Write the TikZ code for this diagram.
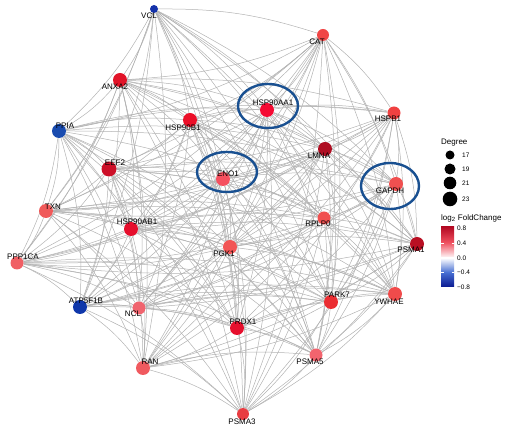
\documentclass[tikz,border=0pt]{standalone}
\usepackage{fontspec}
\setmainfont{Liberation Sans}
\usetikzlibrary{backgrounds,shapes.geometric}
\definecolor{edgegray}{RGB}{178,178,178}
\definecolor{ringblue}{RGB}{25,80,145}
\definecolor{cbred}{RGB}{180,10,35}
\definecolor{cbblue}{RGB}{10,25,145}
\tikzset{
  gn/.style 2 args={circle, inner sep=0pt, minimum size=#2, fill=#1, draw=none},
  lab/.style={font=\fontsize{8}{9}\selectfont, inner sep=0pt, text=black},
  edge/.style={draw=edgegray, line width=0.5pt},
  ring/.style={draw=ringblue, line width=2.4pt},
  legtxt/.style={font=\fontsize{6.5}{8}\selectfont, inner sep=0pt, anchor=west},
}
\begin{document}
\begin{tikzpicture}[x=1pt,y=-1pt]
\useasboundingbox (0,0) rectangle (507,430);
% nodes
\node[gn={{rgb,255:red,20;green,50;blue,170}}{8pt}]   (VCL)      at (154,9) {};
\node[gn={{rgb,255:red,240;green,70;blue,70}}{12pt}]  (CAT)      at (323,35) {};
\node[gn={{rgb,255:red,225;green,20;blue,40}}{14pt}]  (ANXA2)    at (120,80) {};
\node[gn={{rgb,255:red,25;green,75;blue,175}}{14pt}]  (PPIA)     at (59,131) {};
\node[gn={{rgb,255:red,235;green,15;blue,40}}{14pt}]  (HSP90B1)  at (190,120) {};
\node[gn={{rgb,255:red,245;green,10;blue,50}}{14pt}]  (HSP90AA1) at (267,110) {};
\node[gn={{rgb,255:red,240;green,65;blue,65}}{13pt}]  (HSPB1)    at (394,113) {};
\node[gn={{rgb,255:red,175;green,15;blue,35}}{14pt}]  (LMNA)     at (325,149) {};
\node[gn={{rgb,255:red,205;green,15;blue,40}}{15pt}]  (EEF2)     at (109,169) {};
\node[gn={{rgb,255:red,245;green,80;blue,95}}{14pt}]  (ENO1)     at (223,179) {};
\node[gn={{rgb,255:red,240;green,80;blue,80}}{14pt}]  (GAPDH)    at (396,184) {};
\node[gn={{rgb,255:red,240;green,90;blue,90}}{14pt}]  (TXN)      at (46,211) {};
\node[gn={{rgb,255:red,230;green,15;blue,45}}{14pt}]  (HSP90AB1) at (131,229) {};
\node[gn={{rgb,255:red,240;green,80;blue,80}}{13pt}]  (RPLP0)    at (324,218) {};
\node[gn={{rgb,255:red,242;green,85;blue,85}}{14pt}]  (PGK1)     at (230,247) {};
\node[gn={{rgb,255:red,185;green,15;blue,35}}{14pt}]  (PSMA1)    at (417,244) {};
\node[gn={{rgb,255:red,240;green,95;blue,100}}{13pt}] (PPP1CA)   at (17,263) {};
\node[gn={{rgb,255:red,15;green,55;blue,170}}{14pt}]  (ATP5F1B)  at (80,307) {};
\node[gn={{rgb,255:red,240;green,100;blue,110}}{13pt}](NCL)      at (139,308) {};
\node[gn={{rgb,255:red,230;green,15;blue,45}}{14pt}]  (PRDX1)    at (237,328) {};
\node[gn={{rgb,255:red,235;green,45;blue,50}}{14pt}]  (PARK7)    at (331,302) {};
\node[gn={{rgb,255:red,240;green,75;blue,75}}{14pt}]  (YWHAE)    at (395,294) {};
\node[gn={{rgb,255:red,240;green,90;blue,95}}{14pt}]  (RAN)      at (143,368) {};
\node[gn={{rgb,255:red,242;green,100;blue,110}}{13pt}](PSMA5)    at (316,355) {};
\node[gn={{rgb,255:red,232;green,60;blue,65}}{12pt}]  (PSMA3)    at (243,414) {};
% edges
\begin{pgfonlayer}{background}
\foreach \a [count=\i] in {VCL,CAT,ANXA2,PPIA,HSP90B1,HSP90AA1,HSPB1,LMNA,EEF2,ENO1,GAPDH,TXN,HSP90AB1,RPLP0,PGK1,PSMA1,PPP1CA,ATP5F1B,NCL,PRDX1,PARK7,YWHAE,RAN,PSMA5,PSMA3}{
  \foreach \b [count=\j] in {VCL,CAT,ANXA2,PPIA,HSP90B1,HSP90AA1,HSPB1,LMNA,EEF2,ENO1,GAPDH,TXN,HSP90AB1,RPLP0,PGK1,PSMA1,PPP1CA,ATP5F1B,NCL,PRDX1,PARK7,YWHAE,RAN,PSMA5,PSMA3}{
    \pgfmathtruncatemacro\r{mod(\i*7+\j*11,6)}
    \ifnum\j>\i
      \ifnum\r>0
        \draw[edge] (\a) to[bend left=9] (\b);
      \fi
    \fi
  }
}
\end{pgfonlayer}
% labels
\node[lab] (lVCL)      at (149,16)  {VCL};
\node[lab] (lCAT)      at (317,42)  {CAT};
\node[lab] (lANXA2)    at (115,87)  {ANXA2};
\node[lab] (lPPIA)     at (65,126)  {PPIA};
\node[lab] (lHSP90B1)  at (183,128) {HSP90B1};
\node[lab] (lHSP90AA1) at (273,103) {HSP90AA1};
\node[lab] (lHSPB1)    at (388,119) {HSPB1};
\node[lab] (lLMNA)     at (319,156) {LMNA};
\node[lab] (lEEF2)     at (115,163) {EEF2};
\node[lab] (lENO1)     at (228,174) {ENO1};
\node[lab] (lGAPDH)    at (390,191) {GAPDH};
\node[lab] (lTXN)      at (53,207)  {TXN};
\node[lab] (lHSP90AB1) at (137,222) {HSP90AB1};
\node[lab] (lRPLP0)    at (318,224) {RPLP0};
\node[lab] (lPGK1)     at (224,254) {PGK1};
\node[lab] (lPSMA1)    at (411,250) {PSMA1};
\node[lab] (lPPP1CA)   at (23,257)  {PPP1CA};
\node[lab] (lATP5F1B)  at (86,301)  {ATP5F1B};
\node[lab] (lNCL)      at (133,314) {NCL};
\node[lab] (lPRDX1)    at (243,322) {PRDX1};
\node[lab] (lPARK7)    at (337,295) {PARK7};
\node[lab] (lYWHAE)    at (389,302) {YWHAE};
\node[lab] (lRAN)      at (150,362) {RAN};
\node[lab] (lPSMA5)    at (310,362) {PSMA5};
\node[lab] (lPSMA3)    at (242,422) {PSMA3};
% highlight rings
\node[ring, ellipse, minimum width=60pt, minimum height=40pt, inner sep=0pt] (rENO1) at (227,172) {};
\node[ring, ellipse, minimum width=60pt, minimum height=44pt, inner sep=0pt] (rHSP) at (268,106) {};
\node[ring, ellipse, minimum width=58pt, minimum height=46pt, inner sep=0pt] (rGAPDH) at (390,186) {};
% legend: degree
\node[font=\fontsize{8}{9}\selectfont, inner sep=0pt, anchor=west] (degT) at (441,143) {Degree};
\node[gn={black}{9pt}]  (d17) at (450,155) {};
\node[gn={black}{11pt}] (d19) at (450,169) {};
\node[gn={black}{12.6pt}] (d21) at (450,183) {};
\node[gn={black}{14.6pt}] (d23) at (450,199) {};
\node[legtxt] (t17) at (462,155) {17};
\node[legtxt] (t19) at (462,169) {19};
\node[legtxt] (t21) at (462,183) {21};
\node[legtxt] (t23) at (462,199) {23};
% legend: fold change
\node[font=\fontsize{8}{9}\selectfont, inner sep=0pt, anchor=west] (fcT) at (441,218) {log\textsubscript{2} FoldChange};
\shade[top color=cbred, bottom color=white, middle color={rgb,255:red,240;green,80;blue,95}] (441,227) rectangle (454,258);
\shade[top color=white, bottom color=cbblue, middle color={rgb,255:red,70;green,110;blue,210}] (441,258) rectangle (454,287);
\foreach \y in {243,272}{
  \draw[white, line width=0.6pt] (441,\y) -- (443.5,\y);
  \draw[white, line width=0.6pt] (451.5,\y) -- (454,\y);
}
\node[legtxt] (c1) at (457,228) {0.8};
\node[legtxt] (c2) at (457,243) {0.4};
\node[legtxt] (c3) at (457,258) {0.0};
\node[legtxt] (c4) at (457,272) {−0.4};
\node[legtxt] (c5) at (457,287) {−0.8};
\end{tikzpicture}
\end{document}
